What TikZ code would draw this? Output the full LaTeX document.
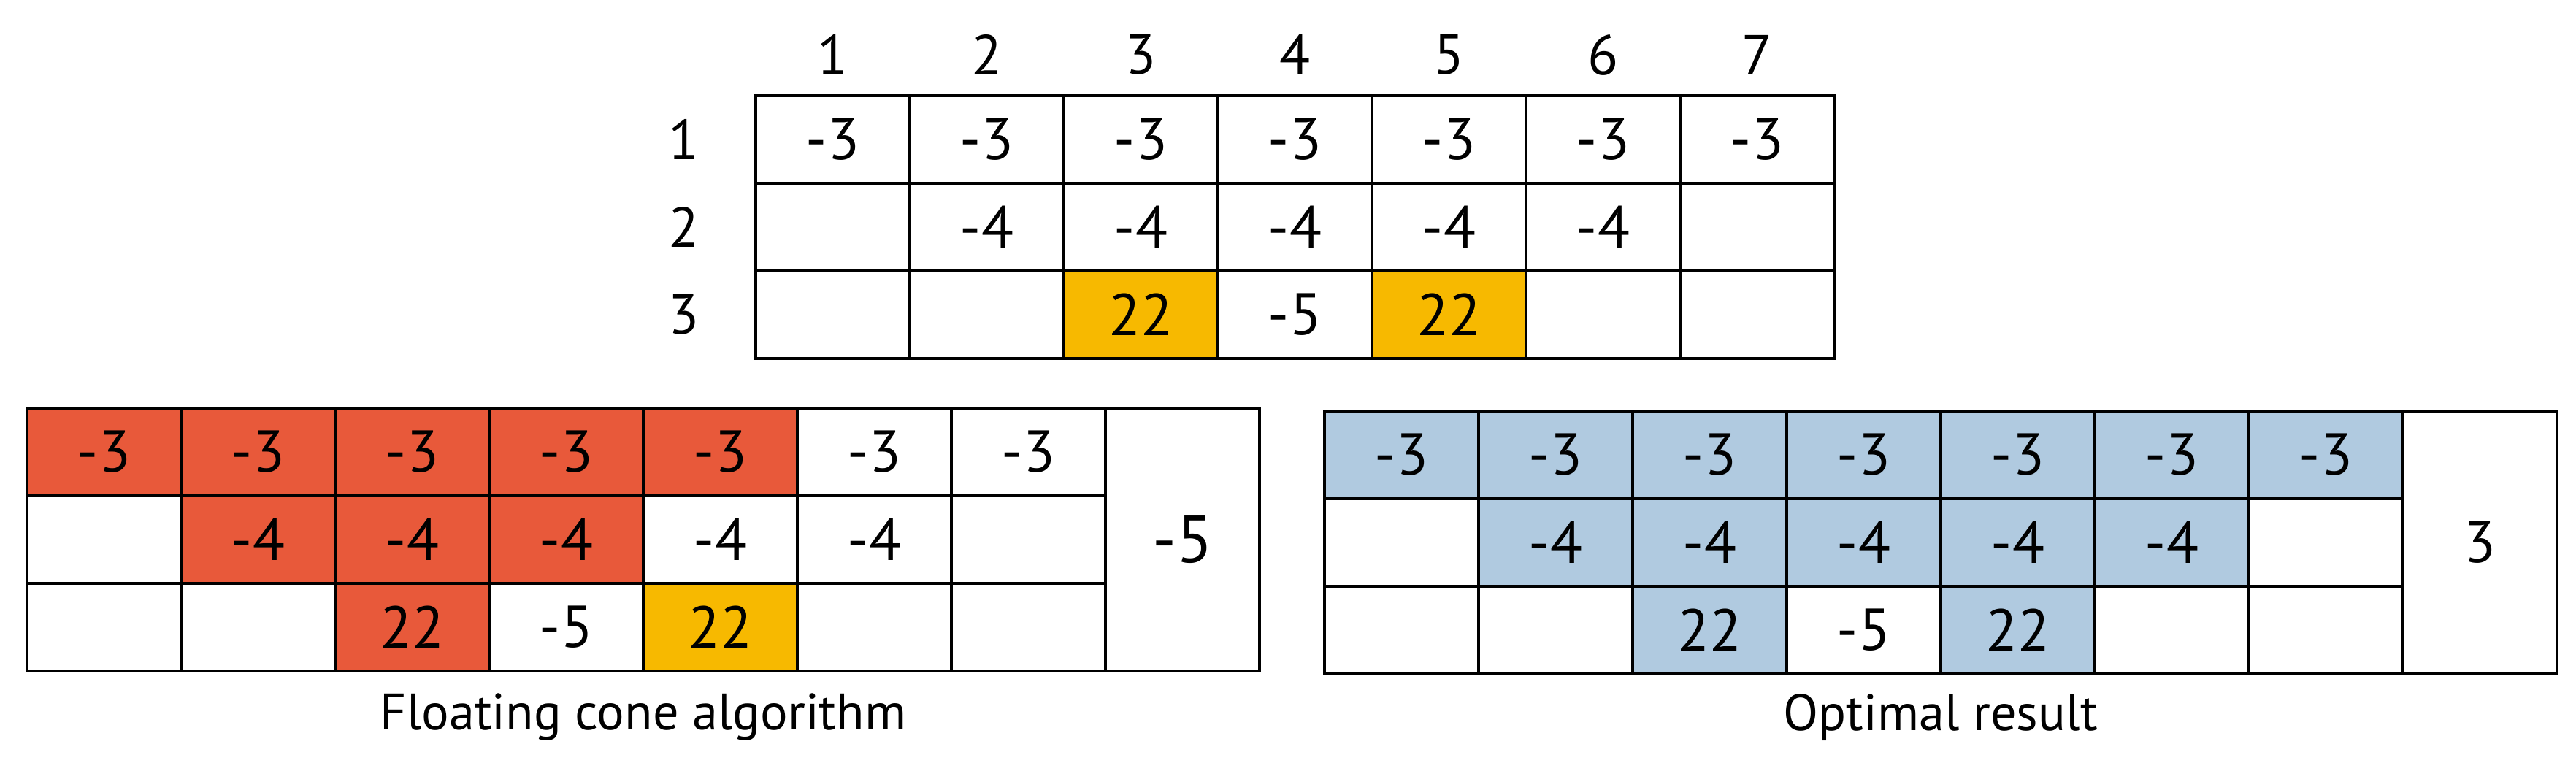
\documentclass[tikz,border=0pt]{standalone}
\usepackage{fontspec}
\setmainfont{PT Sans}
\usetikzlibrary{positioning}
\definecolor{hot}{RGB}{232,89,58}
\definecolor{gold}{RGB}{247,185,0}
\definecolor{ice}{RGB}{176,202,224}

\begin{document}
\begin{tikzpicture}
\tikzstyle{cell}=[draw=black, line width=1.3pt, inner sep=0pt, minimum width=2.11cm, minimum height=1.2cm, font=\fontsize{23}{26}\selectfont]
\tikzstyle{label}=[font=\fontsize{22}{26}\selectfont]
\tikzstyle{caption}=[font=\fontsize{20}{24}\selectfont]
\useasboundingbox (0,0) rectangle (35.28,-10.44);

% Input table
\foreach \x in {1,...,7}
\node at (9.295+\x*2.11, -0.75) [label] (head_\x) {\x};
\foreach \y in {1,...,3}
\node at (9.37, -0.71-\y*1.2) [label] (row_\y) {\y};
\foreach \x in {1,...,7}
\node at (9.295+\x*2.11, -1.91) [cell] (top_1_\x) {-3};
\node at (9.295+1*2.11, -3.11) [cell] (top_2_1) {};
\foreach \x in {2,...,6}
\node at (9.295+\x*2.11, -3.11) [cell] (top_2_\x) {-4};
\node at (9.295+7*2.11, -3.11) [cell] (top_2_7) {};
\foreach \x/\c/\v in {1/white/,2/white/,3/gold/22,4/white/-5,5/gold/22,6/white/,7/white/}
\node at (9.295+\x*2.11, -4.31) [cell, fill=\c] (top_3_\x) {\v};

% Floating cone
\foreach \x/\c in {1/hot,2/hot,3/hot,4/hot,5/hot,6/white,7/white}
\node at (-0.685+\x*2.11, -6.19) [cell, fill=\c] (float_1_\x) {-3};
\foreach \x/\c/\v in {1/white/,2/hot/-4,3/hot/-4,4/hot/-4,5/white/-4,6/white/-4,7/white/}
\node at (-0.685+\x*2.11, -7.39) [cell, fill=\c] (float_2_\x) {\v};
\foreach \x/\c/\v in {1/white/,2/white/,3/hot/22,4/white/-5,5/gold/22,6/white/,7/white/}
\node at (-0.685+\x*2.11, -8.59) [cell, fill=\c] (float_3_\x) {\v};
\node at (16.195, -7.39) [cell, minimum height=3.6cm, font=\fontsize{26}{30}\selectfont] (float_sum) {-5};

% Optimal
\foreach \x in {1,...,7}
\node at (17.085+\x*2.11, -6.23) [cell, fill=ice] (best_1_\x) {-3};
\foreach \x/\c/\v in {1/white/,2/ice/-4,3/ice/-4,4/ice/-4,5/ice/-4,6/ice/-4,7/white/}
\node at (17.085+\x*2.11, -7.43) [cell, fill=\c] (best_2_\x) {\v};
\foreach \x/\c/\v in {1/white/,2/white/,3/ice/22,4/white/-5,5/ice/22,6/white/,7/white/}
\node at (17.085+\x*2.11, -8.63) [cell, fill=\c] (best_3_\x) {\v};
\node at (33.965, -7.43) [cell, minimum height=3.6cm] (best_sum) {3};

%% Text
\node at (8.81, -9.82) [caption] (float_text) {Floating cone algorithm};
\node at (26.58, -9.82) [caption] (best_text) {Optimal result};
\end{tikzpicture}
\end{document}
